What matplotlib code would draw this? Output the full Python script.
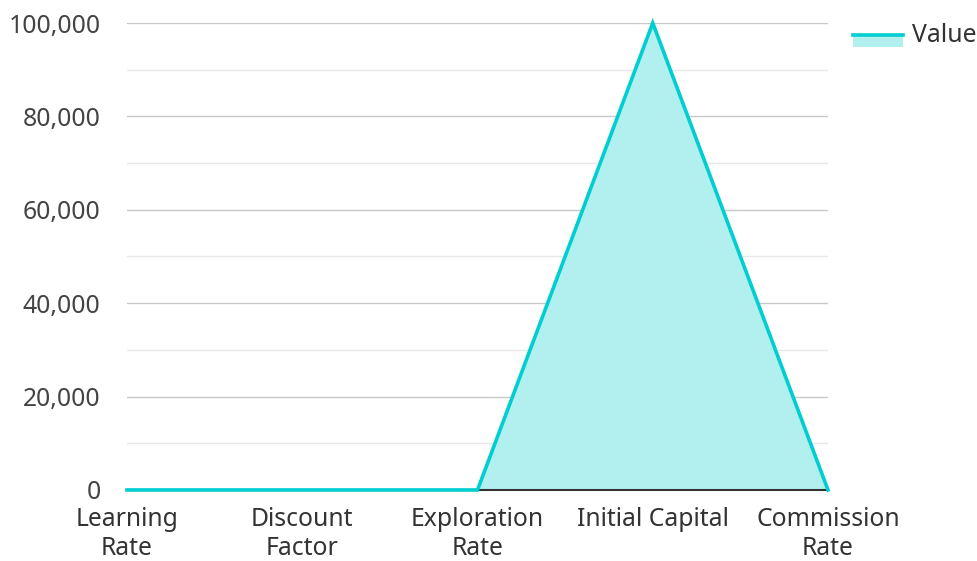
import matplotlib.pyplot as plt
from matplotlib.patches import Rectangle
from matplotlib.lines import Line2D
from matplotlib.ticker import FuncFormatter, MultipleLocator

# data
categories = ["Learning\nRate", "Discount\nFactor", "Exploration\nRate",
              "Initial Capital", "Commission\nRate"]
values = [0.001, 0.95, 0.1, 100000, 0.001]

line_color = "#00CED1"
fill_color = "#B2EFEF"
text_color = "#333333"

plt.rcParams["font.family"] = ["Noto Sans", "DejaVu Sans"]

fig = plt.figure(figsize=(9.77, 5.61), dpi=100)
ax = fig.add_axes([0.130, 0.1266, 0.7175, 0.8324])

x = list(range(len(categories)))
ax.fill_between(x, values, 0, color=fill_color, linewidth=0, zorder=2)
ax.plot(x, values, color=line_color, linewidth=2.6, zorder=4,
        solid_joinstyle="miter", clip_on=False)

ax.set_xlim(0, len(categories) - 1)
ax.set_ylim(0, 100000)
ax.yaxis.set_major_locator(MultipleLocator(20000))
ax.yaxis.set_minor_locator(MultipleLocator(10000))
ax.yaxis.set_major_formatter(FuncFormatter(lambda v, p: f"{int(v):,}"))

ax.grid(axis="y", which="major", color="#c8c8c8", linewidth=1, zorder=1)
ax.grid(axis="y", which="minor", color="#e8e8e8", linewidth=1, zorder=1)
ax.grid(axis="x", visible=False)

for s in ["top", "right", "left"]:
    ax.spines[s].set_visible(False)
ax.spines["bottom"].set_color("#333333")
ax.spines["bottom"].set_linewidth(1.5)
ax.spines["bottom"].set_zorder(3)

ax.set_xticks(x)
ax.set_xticklabels(categories, fontsize=17.8, color=text_color, linespacing=1.22)
ax.tick_params(axis="x", length=0, pad=12)
ax.tick_params(axis="y", which="both", length=0, pad=19, labelsize=17.8,
               labelcolor="#444444")

# legend
fig.add_artist(Rectangle((853 / 977, 1 - 47 / 561), 50 / 977, 13 / 561,
                         transform=fig.transFigure, color=fill_color, lw=0))
fig.add_artist(Line2D([853 / 977, 903 / 977], [1 - 35 / 561, 1 - 35 / 561],
                      transform=fig.transFigure, color=line_color, lw=2.6))
fig.text(912 / 977, 1 - 36 / 561, "Value", fontsize=17.8, color=text_color,
         va="center", ha="left")

fig.savefig("out.png", dpi=100)
